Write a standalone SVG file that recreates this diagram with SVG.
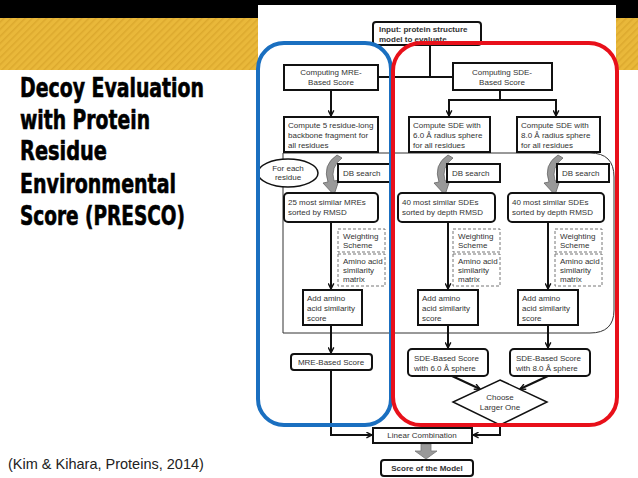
<svg xmlns="http://www.w3.org/2000/svg" width="638" height="478" viewBox="0 0 638 478">
<defs>
<pattern id="stripes" width="5" height="5" patternUnits="userSpaceOnUse" patternTransform="rotate(45)">
<rect width="5" height="5" fill="#E9B83A"/><rect width="1.5" height="5" fill="#DCA92E"/>
</pattern>
<marker id="ah" viewBox="0 0 10 10" refX="9" refY="5" markerWidth="7" markerHeight="7" markerUnits="userSpaceOnUse" orient="auto"><path d="M1,1 L9,5 L1,9" fill="none" stroke="#111" stroke-width="2"/></marker>
<style>
.t{font-family:"Liberation Sans",Arial,sans-serif;font-size:8px;fill:#333}
.b{fill:#fff;stroke:#111;stroke-width:2}
.d{fill:#fff;stroke:#777;stroke-width:1;stroke-dasharray:3,2}
.c{fill:none;stroke:#111;stroke-width:2}
.title{font-family:"DejaVu Sans Condensed","DejaVu Sans",sans-serif;font-weight:bold;font-size:27px;fill:#000;stroke:#000;stroke-width:0.6}
</style>
</defs>
<rect width="638" height="478" fill="#fff"/>
<rect width="638" height="18" fill="#000"/>
<rect y="18" width="638" height="52" fill="url(#stripes)"/>
<rect x="258" y="5" width="358" height="473" fill="#fff"/>
<g id="title">
<text class="title" x="20" y="97" textLength="184" lengthAdjust="spacingAndGlyphs">Decoy Evaluation</text>
<text class="title" x="20" y="129" textLength="130" lengthAdjust="spacingAndGlyphs">with Protein</text>
<text class="title" x="20" y="160" textLength="87" lengthAdjust="spacingAndGlyphs">Residue</text>
<text class="title" x="20" y="193" textLength="156" lengthAdjust="spacingAndGlyphs">Environmental</text>
<text class="title" x="20" y="225" textLength="165" lengthAdjust="spacingAndGlyphs">Score (PRESCO)</text>
</g>
<text x="8" y="469" font-family="Liberation Sans,Arial,sans-serif" font-size="14.5" fill="#222">(Kim &amp; Kihara, Proteins, 2014)</text>

<g id="loop"><path d="M283,153 H590 Q614,153 614,177 V310 Q614,333 590,333 H283 Z" fill="none" stroke="#333" stroke-width="1"/></g>

<g id="connectors">
<path class="c" d="M430,44 V77 M378,77 H453"/>
<path class="c" d="M331,90 V116" marker-end="url(#ah)"/>
<path class="c" d="M500,90 V100 H449 V116" marker-end="url(#ah)"/>
<path class="c" d="M500,100 H556 V116" marker-end="url(#ah)"/>
<path class="c" d="M331,222 V289" marker-end="url(#ah)"/>
<path class="c" d="M448,222 V289" marker-end="url(#ah)"/>
<path class="c" d="M548,222 V289" marker-end="url(#ah)"/>
<path class="c" d="M331,325 V353" marker-end="url(#ah)"/>
<path class="c" d="M448,325 V348" marker-end="url(#ah)"/>
<path class="c" d="M548,325 V348" marker-end="url(#ah)"/>
<path class="c" d="M452,376 L480,389" marker-end="url(#ah)"/>
<path class="c" d="M548,376 L520,389" marker-end="url(#ah)"/>
<path class="c" d="M331,370 V435 H372" marker-end="url(#ah)"/>
<path class="c" d="M500,425 V435 H473" marker-end="url(#ah)"/>
<path d="M337,155 Q322,165 328,182 L323,183 L334,195 L339,180 L334,181 Q330,167 342,158 Z" fill="#999" stroke="#666" stroke-width="0.8"/>
<path d="M448,155 Q433,165 439,182 L434,183 L445,195 L450,180 L445,181 Q441,167 453,158 Z" fill="#999" stroke="#666" stroke-width="0.8"/>
<path d="M558,155 Q543,165 549,182 L544,183 L555,195 L560,180 L555,181 Q551,167 563,158 Z" fill="#999" stroke="#666" stroke-width="0.8"/>
<path d="M421,444 H431 V451 H437 L426,459 L415,451 H421 Z" fill="#999" stroke="#777" stroke-width="0.8"/>
</g>

<g id="input"><rect class="b" x="373" y="22" width="108" height="23" rx="3"/><text class="t" x="379" y="32" font-weight="bold" fill="#222">Input: protein structure</text><text class="t" x="379" y="42" font-weight="bold" fill="#222">model to evaluate</text></g>
<g id="mre"><rect class="b" x="284" y="65" width="94" height="25"/><text class="t" x="331" y="75" text-anchor="middle">Computing MRE-</text><text class="t" x="331" y="85" text-anchor="middle">Based Score</text></g>
<g id="sde"><rect class="b" x="453" y="63" width="99" height="27"/><text class="t" x="502" y="75" text-anchor="middle">Computing SDE-</text><text class="t" x="502" y="85" text-anchor="middle">Based Score</text></g>
<g id="c5"><rect class="b" x="284" y="117" width="94" height="35"/><text class="t" x="288" y="128">Compute 5 residue-long</text><text class="t" x="288" y="138">backbone fragment for</text><text class="t" x="288" y="148">all residues</text></g>
<g id="c6"><rect class="b" x="409" y="117" width="81" height="35"/><text class="t" x="413" y="128">Compute SDE with</text><text class="t" x="413" y="138">6.0 Å radius sphere</text><text class="t" x="413" y="148">for all residues</text></g>
<g id="c8"><rect class="b" x="517" y="117" width="83" height="35"/><text class="t" x="521" y="128">Compute SDE with</text><text class="t" x="521" y="138">8.0 Å radius sphere</text><text class="t" x="521" y="148">for all residues</text></g>
<g id="each"><ellipse cx="288" cy="173" rx="30" ry="14" fill="#fff" stroke="#111" stroke-width="1.5"/><text class="t" x="288" y="171" text-anchor="middle">For each</text><text class="t" x="288" y="180" text-anchor="middle">residue</text></g>
<g id="db1"><rect class="b" x="338" y="164" width="52" height="18"/><text class="t" x="343" y="176">DB search</text></g>
<g id="db2"><rect class="b" x="447" y="164" width="53" height="18"/><text class="t" x="452" y="176">DB search</text></g>
<g id="db3"><rect class="b" x="557" y="164" width="52" height="18"/><text class="t" x="562" y="176">DB search</text></g>
<g id="s25"><rect class="b" x="284" y="193" width="94" height="29" rx="4"/><text class="t" x="288" y="205">25 most similar MREs</text><text class="t" x="288" y="215">sorted by RMSD</text></g>
<g id="s40a"><rect class="b" x="398" y="193" width="97" height="29" rx="4"/><text class="t" x="402" y="205">40 most similar SDEs</text><text class="t" x="402" y="215">sorted by depth RMSD</text></g>
<g id="s40b"><rect class="b" x="508" y="193" width="96" height="29" rx="4"/><text class="t" x="512" y="205">40 most similar SDEs</text><text class="t" x="512" y="215">sorted by depth RMSD</text></g>
<g id="w1"><rect class="d" x="338" y="229" width="47" height="23"/><text class="t" x="343" y="239">Weighting</text><text class="t" x="343" y="248">Scheme</text><rect class="d" x="338" y="254" width="47" height="32"/><text class="t" x="343" y="264">Amino acid</text><text class="t" x="343" y="273">similarity</text><text class="t" x="343" y="282">matrix</text></g>
<g id="w2"><rect class="d" x="453" y="229" width="47" height="23"/><text class="t" x="458" y="239">Weighting</text><text class="t" x="458" y="248">Scheme</text><rect class="d" x="453" y="254" width="47" height="32"/><text class="t" x="458" y="264">Amino acid</text><text class="t" x="458" y="273">similarity</text><text class="t" x="458" y="282">matrix</text></g>
<g id="w3"><rect class="d" x="555" y="229" width="47" height="23"/><text class="t" x="560" y="239">Weighting</text><text class="t" x="560" y="248">Scheme</text><rect class="d" x="555" y="254" width="47" height="32"/><text class="t" x="560" y="264">Amino acid</text><text class="t" x="560" y="273">similarity</text><text class="t" x="560" y="282">matrix</text></g>
<g id="a1"><rect class="b" x="303" y="290" width="59" height="35"/><text class="t" x="307" y="301">Add amino</text><text class="t" x="307" y="311">acid similarity</text><text class="t" x="307" y="321">score</text></g>
<g id="a2"><rect class="b" x="418" y="290" width="60" height="35"/><text class="t" x="422" y="301">Add amino</text><text class="t" x="422" y="311">acid similarity</text><text class="t" x="422" y="321">score</text></g>
<g id="a3"><rect class="b" x="518" y="290" width="60" height="35"/><text class="t" x="522" y="301">Add amino</text><text class="t" x="522" y="311">acid similarity</text><text class="t" x="522" y="321">score</text></g>
<g id="mres"><rect class="b" x="291" y="354" width="81" height="16" rx="3"/><text class="t" x="331" y="365" text-anchor="middle">MRE-Based Score</text></g>
<g id="sd6"><rect class="b" x="408" y="349" width="80" height="27" rx="4"/><text class="t" x="414" y="361">SDE-Based Score</text><text class="t" x="414" y="371">with 6.0 Å sphere</text></g>
<g id="sd8"><rect class="b" x="510" y="349" width="80" height="27" rx="4"/><text class="t" x="516" y="361">SDE-Based Score</text><text class="t" x="516" y="371">with 8.0 Å sphere</text></g>
<g id="choose"><path d="M500,380 L547,402 L500,425 L453,402 Z" fill="#fff" stroke="#111" stroke-width="1.5"/><text class="t" x="500" y="400" text-anchor="middle">Choose</text><text class="t" x="500" y="410" text-anchor="middle">Larger One</text></g>
<g id="blue"><rect x="258" y="43" width="133" height="382" rx="26" fill="none" stroke="#1A6FC0" stroke-width="4"/></g>
<g id="red"><rect x="393" y="43" width="224" height="382" rx="28" fill="none" stroke="#E8101A" stroke-width="4"/></g>
<g id="lin"><rect class="b" x="373" y="428" width="99" height="15"/><text class="t" x="422" y="438" text-anchor="middle">Linear Combination</text></g>
<g id="score"><rect class="b" x="381" y="460" width="92" height="16" rx="3"/><text class="t" x="427" y="471" text-anchor="middle" font-weight="bold" fill="#222">Score of the Model</text></g>
</svg>
